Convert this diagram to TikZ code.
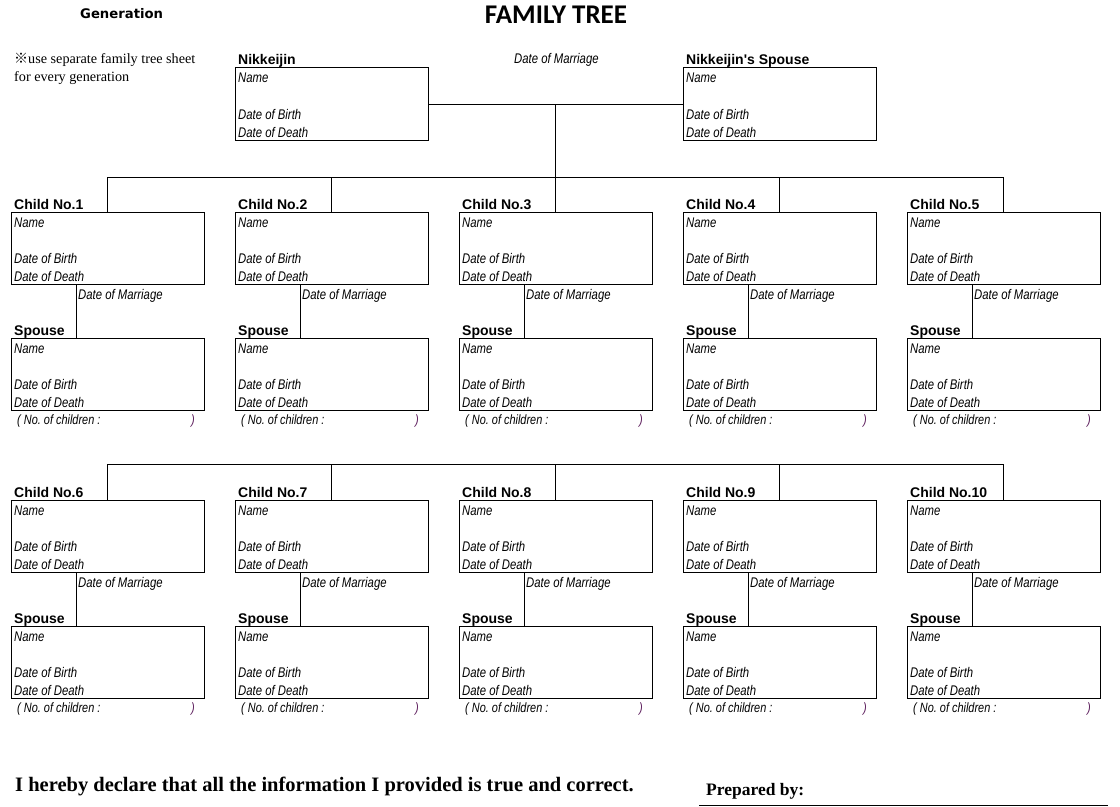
\documentclass[tikz,border=0pt]{standalone}
\usepackage{fontspec}
\newfontfamily\arialN[FakeStretch=0.81]{Liberation Sans}
\newfontfamily\arialB{Liberation Sans}
\newfontfamily\calib{Carlito}
\newfontfamily\timesf{Liberation Serif}
\newfontfamily\dejav{DejaVu Sans}
\newfontfamily\cjkf{Noto Sans CJK JP}
\definecolor{parcol}{rgb}{0.35,0.1,0.35}
\frenchspacing
\tikzset{
  rbox/.style={draw, line width=1bp, minimum width=193bp, minimum height=72bp, inner sep=0pt, outer sep=0pt, anchor=north west},
  conn/.style={line width=1bp},
  fld/.style={anchor=base west, inner sep=0pt, font=\arialN\itshape\fontsize{14bp}{15bp}\selectfont},
  ttl/.style={anchor=base west, inner sep=0pt, font=\arialB\bfseries\fontsize{14bp}{16bp}\selectfont},
  small/.style={anchor=base west, inner sep=0pt, font=\arialN\itshape\fontsize{13.5bp}{14bp}\selectfont},
}
% \pbox{name}{left}{top}{title}
\newcommand{\pbox}[4]{%
  \node[rbox] (#1) at (#2,#3) {};
  \node[fld] (#1-n) at (#2+3,#3+15) {Name};
  \node[fld] (#1-b) at (#2+3,#3+51) {Date of Birth};
  \node[fld] (#1-d) at (#2+3,#3+69) {Date of Death};
  \node[ttl] (#1-t) at (#2+3,#3-3) {#4};
}
\begin{document}
\begin{tikzpicture}[x=1bp,y=-1bp]
\useasboundingbox (0,0) rectangle (1120,807);
% header
\node[anchor=base west, inner sep=0pt, font=\dejav\bfseries\fontsize{13.2bp}{16bp}\selectfont] (gen) at (80,19) {Generation};
\node[anchor=base, inner sep=0pt, font=\calib\bfseries\fontsize{27bp}{30bp}\selectfont] (title) at (556,24) {FAMILY TREE};
\node[anchor=base west, inner sep=0pt, font=\timesf\fontsize{14.2bp}{16bp}\selectfont] (note1) at (14,64) {{\cjkf\fontsize{14bp}{14bp}\selectfont ※}use separate family tree sheet};
\node[anchor=base west, inner sep=0pt, font=\timesf\fontsize{14.2bp}{16bp}\selectfont] (note2) at (14,82) {for every generation};
% top couple
\pbox{nik}{235}{68}{Nikkeijin}
\pbox{nsp}{683}{68}{Nikkeijin's Spouse}
\node[fld] (topdom) at (514,64) {Date of Marriage};
\coordinate (tm) at (0,104);
\draw[conn] (nik.east |- tm) -- (nsp.west |- tm);
% rows
\foreach \r/\ct/\st/\bar/\off in {1/212/338/177/0, 2/500/626/464/5}{
  \foreach \i in {1,...,5}{
    \pgfmathtruncatemacro{\L}{11+224*(\i-1)}
    \pgfmathtruncatemacro{\n}{\i+\off}
    \pbox{ch\r\i}{\L}{\ct}{Child No.\n}
    \pbox{sp\r\i}{\L}{\st}{Spouse}
    \draw[conn] ([xshift=65bp]ch\r\i.south west) -- ([xshift=65bp]sp\r\i.north west);
    \node[fld] (dm\r\i) at (\L+67,\ct+87) {Date of Marriage};
    \node[small] (nc\r\i) at (\L+6,\st+86) {( No. of children :};
    \node[small, text=parcol] (pc\r\i) at (\L+180,\st+86) {)};
  }
  \coordinate (bar\r) at (0,\bar);
  \draw[conn] (ch\r1.north) -- (ch\r1.north |- bar\r) -- (ch\r5.north |- bar\r) -- (ch\r5.north);
  \foreach \i in {2,3,4}{
    \draw[conn] (ch\r\i.north) -- (ch\r\i.north |- bar\r);
  }
}
\draw[conn] (ch13.north |- tm) -- (ch13.north |- bar1);
% footer
\node[anchor=base west, inner sep=0pt, font=\timesf\bfseries\fontsize{20.5bp}{24bp}\selectfont] (decl) at (15,791) {I hereby declare that all the information I provided is true and correct.};
\node[anchor=base west, inner sep=0pt, font=\timesf\bfseries\fontsize{17.5bp}{20bp}\selectfont] (prep) at (706,795) {Prepared by:};
\coordinate (sl) at (699,805);
\coordinate (sr) at (1108,805);
\draw[conn] (sl) -- (sr);
\end{tikzpicture}
\end{document}
